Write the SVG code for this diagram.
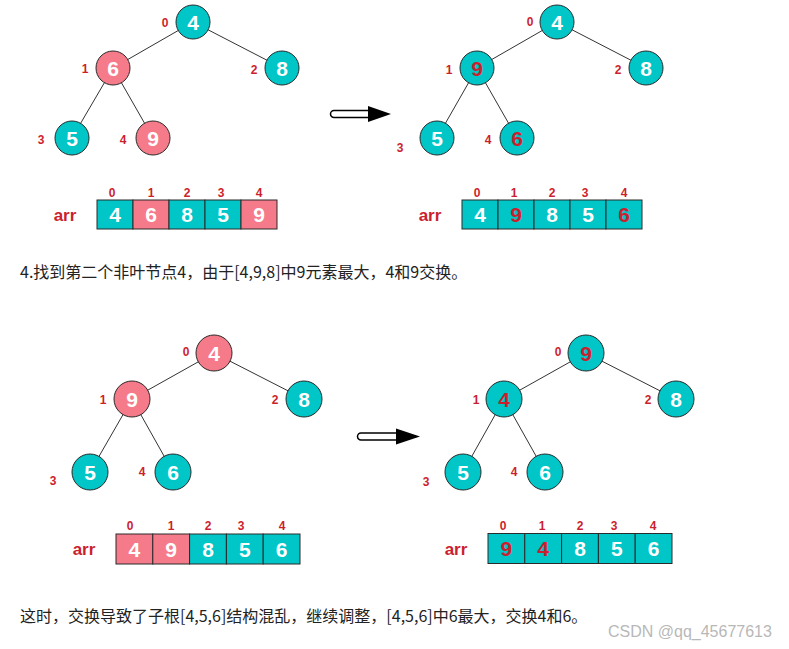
<svg xmlns="http://www.w3.org/2000/svg" width="789" height="649" viewBox="0 0 789 649">
<style>
.t{fill:#00C6C8;stroke:#2a2a2a;stroke-width:1}
.p{fill:#F67B8A;stroke:#2a2a2a;stroke-width:1}
.n{font-family:"Liberation Sans",Arial,sans-serif;font-weight:bold;font-size:21px;text-anchor:middle;fill:#fff}
.nr{fill:#CC1F2E}
.i{font-family:"Liberation Sans",Arial,sans-serif;font-weight:bold;font-size:12px;text-anchor:middle;fill:#CC1F2E}
.arr{font-family:"Liberation Sans",Arial,sans-serif;font-weight:bold;font-size:17px;text-anchor:middle;fill:#CC1F2E}
.e{stroke:#333;stroke-width:1;fill:none}
.cap{font-family:"Noto Sans CJK SC","Microsoft YaHei",sans-serif;font-size:16px;fill:#222}
.wm{font-family:"Liberation Sans",Arial,sans-serif;font-size:16px;fill:#b8b8b8}
.sh{fill:#fff;stroke:#000;stroke-width:1.5}
.hd{fill:#000}
</style>
<rect width="789" height="649" fill="#fff"/>

<!-- connectors -->
<g id="connectors">
<line class="e" x1="193" y1="22" x2="113" y2="68"/>
<line class="e" x1="193" y1="22" x2="282" y2="68"/>
<line class="e" x1="113" y1="68" x2="72" y2="138"/>
<line class="e" x1="113" y1="68" x2="153" y2="138"/>

<line class="e" x1="557" y1="22" x2="477" y2="68"/>
<line class="e" x1="557" y1="22" x2="646" y2="68"/>
<line class="e" x1="477" y1="68" x2="437" y2="138"/>
<line class="e" x1="477" y1="68" x2="517" y2="138"/>

<line class="e" x1="214" y1="353" x2="132" y2="399"/>
<line class="e" x1="214" y1="353" x2="304" y2="399"/>
<line class="e" x1="132" y1="399" x2="90" y2="472"/>
<line class="e" x1="132" y1="399" x2="173" y2="472"/>

<line class="e" x1="586" y1="353" x2="504" y2="399"/>
<line class="e" x1="586" y1="353" x2="676" y2="399"/>
<line class="e" x1="504" y1="399" x2="463" y2="472"/>
<line class="e" x1="504" y1="399" x2="545" y2="472"/>
</g>

<!-- top-left tree -->
<g id="tl-n0"><circle class="t" cx="193" cy="22" r="17"/><text class="n" x="193" y="29.5">4</text><text class="i" x="165" y="27">0</text></g>
<g id="tl-n1"><circle class="p" cx="113" cy="68" r="17"/><text class="n" x="113" y="75.5">6</text><text class="i" x="85" y="73">1</text></g>
<g id="tl-n2"><circle class="t" cx="282" cy="68" r="17"/><text class="n" x="282" y="75.5">8</text><text class="i" x="254" y="74">2</text></g>
<g id="tl-n3"><circle class="t" cx="72" cy="138" r="17"/><text class="n" x="72" y="145.5">5</text><text class="i" x="41" y="144">3</text></g>
<g id="tl-n4"><circle class="p" cx="153" cy="138" r="17"/><text class="n" x="153" y="145.5">9</text><text class="i" x="123" y="144">4</text></g>

<g id="tl-arr">
<text class="arr" x="65" y="221">arr</text>
<rect class="t" x="97" y="200" width="36" height="29"/>
<rect class="p" x="133" y="200" width="36" height="29"/>
<rect class="t" x="169" y="200" width="36" height="29"/>
<rect class="t" x="205" y="200" width="36" height="29"/>
<rect class="p" x="241" y="200" width="36" height="29"/>
<text class="n" x="115" y="222">4</text><text class="n" x="151" y="222">6</text><text class="n" x="187" y="222">8</text><text class="n" x="223" y="222">5</text><text class="n" x="259" y="222">9</text>
<text class="i" x="112" y="197">0</text><text class="i" x="151" y="197">1</text><text class="i" x="187" y="197">2</text><text class="i" x="221" y="197">3</text><text class="i" x="259" y="197">4</text>
</g>

<!-- arrow 1 -->
<g id="arrow1">
<path class="sh" d="M334,110.5 H370 V117.5 H334 A3.5,3.5 0 0 1 334,110.5 Z"/>
<polygon class="hd" points="368,106 391,114 368,122"/>
</g>

<!-- top-right tree -->
<g id="tr-n0"><circle class="t" cx="557" cy="22" r="17"/><text class="n" x="557" y="29.5">4</text><text class="i" x="530" y="26">0</text></g>
<g id="tr-n1"><circle class="t" cx="477" cy="68" r="17"/><text class="n nr" x="477" y="75.5">9</text><text class="i" x="449" y="74">1</text></g>
<g id="tr-n2"><circle class="t" cx="646" cy="68" r="17"/><text class="n" x="646" y="75.5">8</text><text class="i" x="618" y="74">2</text></g>
<g id="tr-n3"><circle class="t" cx="437" cy="138" r="17"/><text class="n" x="437" y="145.5">5</text><text class="i" x="400" y="152">3</text></g>
<g id="tr-n4"><circle class="t" cx="517" cy="138" r="17"/><text class="n nr" x="517" y="145.5">6</text><text class="i" x="488" y="144">4</text></g>

<g id="tr-arr">
<text class="arr" x="430" y="221">arr</text>
<rect class="t" x="462" y="200" width="36" height="29"/>
<rect class="t" x="498" y="200" width="36" height="29"/>
<rect class="t" x="534" y="200" width="36" height="29"/>
<rect class="t" x="570" y="200" width="36" height="29"/>
<rect class="t" x="606" y="200" width="36" height="29"/>
<text class="n" x="480" y="222">4</text><text class="n nr" x="516" y="222">9</text><text class="n" x="552" y="222">8</text><text class="n" x="588" y="222">5</text><text class="n nr" x="624" y="222">6</text>
<text class="i" x="477" y="197">0</text><text class="i" x="514" y="197">1</text><text class="i" x="552" y="197">2</text><text class="i" x="585" y="197">3</text><text class="i" x="624" y="197">4</text>
</g>

<text class="cap" x="20" y="278">4.找到第二个非叶节点4，由于[4,9,8]中9元素最大，4和9交换。</text>

<!-- bottom-left tree -->
<g id="bl-n0"><circle class="p" cx="214" cy="353" r="18"/><text class="n" x="214" y="361">4</text><text class="i" x="186" y="356">0</text></g>
<g id="bl-n1"><circle class="p" cx="132" cy="399" r="18"/><text class="n" x="132" y="407">9</text><text class="i" x="103" y="404">1</text></g>
<g id="bl-n2"><circle class="t" cx="304" cy="399" r="18"/><text class="n" x="304" y="407">8</text><text class="i" x="275" y="404">2</text></g>
<g id="bl-n3"><circle class="t" cx="90" cy="472" r="18"/><text class="n" x="90" y="480">5</text><text class="i" x="53" y="485">3</text></g>
<g id="bl-n4"><circle class="t" cx="173" cy="472" r="18"/><text class="n" x="173" y="480">6</text><text class="i" x="142" y="476">4</text></g>

<g id="bl-arr">
<text class="arr" x="84" y="555">arr</text>
<rect class="p" x="116" y="534" width="36.8" height="30"/>
<rect class="p" x="152.8" y="534" width="36.8" height="30"/>
<rect class="t" x="189.6" y="534" width="36.8" height="30"/>
<rect class="t" x="226.4" y="534" width="36.8" height="30"/>
<rect class="t" x="263.2" y="534" width="36.8" height="30"/>
<text class="n" x="134.4" y="556.5">4</text><text class="n" x="171.2" y="556.5">9</text><text class="n" x="208" y="556.5">8</text><text class="n" x="244.8" y="556.5">5</text><text class="n" x="281.6" y="556.5">6</text>
<text class="i" x="130" y="530">0</text><text class="i" x="171" y="530">1</text><text class="i" x="208" y="530">2</text><text class="i" x="241" y="530">3</text><text class="i" x="282" y="530">4</text>
</g>

<!-- arrow 2 -->
<g id="arrow2">
<path class="sh" d="M361,433 H398 V440 H361 A3.5,3.5 0 0 1 361,433 Z"/>
<polygon class="hd" points="396,428.5 420,436.5 396,444.5"/>
</g>

<!-- bottom-right tree -->
<g id="br-n0"><circle class="t" cx="586" cy="353" r="18"/><text class="n nr" x="586" y="361">9</text><text class="i" x="558" y="356">0</text></g>
<g id="br-n1"><circle class="t" cx="504" cy="399" r="18"/><text class="n nr" x="504" y="407">4</text><text class="i" x="476" y="404">1</text></g>
<g id="br-n2"><circle class="t" cx="676" cy="399" r="18"/><text class="n" x="676" y="407">8</text><text class="i" x="648" y="404">2</text></g>
<g id="br-n3"><circle class="t" cx="463" cy="472" r="18"/><text class="n" x="463" y="480">5</text><text class="i" x="426" y="486">3</text></g>
<g id="br-n4"><circle class="t" cx="545" cy="472" r="18"/><text class="n" x="545" y="480">6</text><text class="i" x="514" y="476">4</text></g>

<g id="br-arr">
<text class="arr" x="456" y="555">arr</text>
<rect class="t" x="488" y="533.5" width="36.8" height="30"/>
<rect class="t" x="524.8" y="533.5" width="36.8" height="30"/>
<rect class="t" x="561.6" y="533.5" width="36.8" height="30"/>
<rect class="t" x="598.4" y="533.5" width="36.8" height="30"/>
<rect class="t" x="635.2" y="533.5" width="36.8" height="30"/>
<text class="n nr" x="506.4" y="556">9</text><text class="n nr" x="543.2" y="556">4</text><text class="n" x="580" y="556">8</text><text class="n" x="616.8" y="556">5</text><text class="n" x="653.6" y="556">6</text>
<text class="i" x="503" y="530">0</text><text class="i" x="542" y="530">1</text><text class="i" x="580" y="530">2</text><text class="i" x="614" y="530">3</text><text class="i" x="653" y="530">4</text>
</g>

<text class="cap" x="20" y="622">这时，交换导致了子根[4,5,6]结构混乱，继续调整，[4,5,6]中6最大，交换4和6。</text>
<text class="wm" x="608" y="637">CSDN @qq_45677613</text>
</svg>
